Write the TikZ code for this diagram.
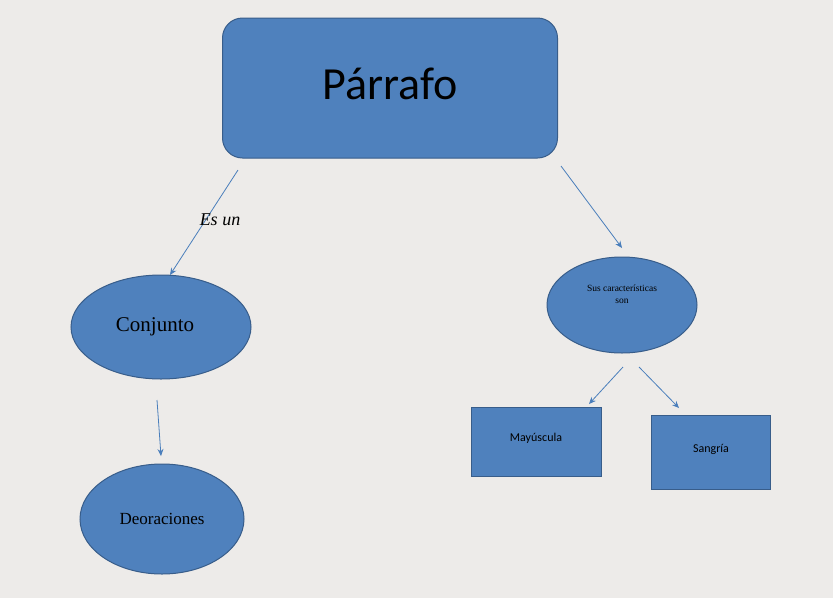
\documentclass[tikz,border=0pt]{standalone}
\usepackage{fontspec}
\setmainfont{Liberation Serif}
\newfontfamily\calfont{Carlito}
\usetikzlibrary{shapes.geometric,arrows.meta}
\definecolor{bg}{HTML}{EDEBE9}
\definecolor{bfill}{HTML}{4F81BD}
\definecolor{bdraw}{HTML}{385D8A}
\definecolor{aline}{HTML}{4A7EBB}
\begin{document}
\begin{tikzpicture}[x=1pt,y=-1pt,
  shp/.style={fill=bfill,draw=bdraw,line width=1pt,inner sep=0pt},
  ell/.style={shp,ellipse},
  arr/.style={draw=aline,line width=0.8pt,-{Stealth[length=7pt,width=6pt]}}]
\fill[bg] (0,0) rectangle (833,598);
\useasboundingbox (0,0) rectangle (833,598);
\node[shp,rounded corners=20pt,minimum width=335pt,minimum height=140pt,font=\calfont\fontsize{46}{50}\selectfont] (p) at (390,88) {\raisebox{8pt}{Párrafo}};
\node[ell,minimum width=180pt,minimum height=104pt,font=\fontsize{21}{24}\selectfont] (c) at (161,327) {\hspace*{-12pt}Conjunto};
\node[ell,minimum width=164pt,minimum height=110pt,font=\fontsize{17}{20}\selectfont] (d) at (162,519) {Deoraciones};
\node[ell,minimum width=150pt,minimum height=96pt,font=\fontsize{9.5}{12}\selectfont,align=center] (s) at (622,305) {Sus características\\son\\[10pt]};
\node[shp,rectangle,minimum width=130pt,minimum height=69pt,font=\calfont\fontsize{12}{14}\selectfont] (m) at (536,442) {\raisebox{10pt}{Mayúscula}};
\node[shp,rectangle,minimum width=119pt,minimum height=74pt,font=\calfont\fontsize{12}{14}\selectfont] (g) at (711,452) {\raisebox{8pt}{Sangría}};
\coordinate (a1) at (238,170); \coordinate (a2) at (170,275);
\coordinate (b1) at (157,400); \coordinate (b2) at (161,456);
\coordinate (c1) at (561,166); \coordinate (c2) at (622,248);
\coordinate (d1) at (623,367); \coordinate (d2) at (589,404);
\coordinate (e1) at (639,367); \coordinate (e2) at (679,408);
\draw[arr] (a1) -- (a2);
\draw[arr] (b1) -- (b2);
\draw[arr] (c1) -- (c2);
\draw[arr] (d1) -- (d2);
\draw[arr] (e1) -- (e2);
\node[font=\itshape\fontsize{18}{20}\selectfont] (es) at (220,220) {Es un};
\end{tikzpicture}
\end{document}
